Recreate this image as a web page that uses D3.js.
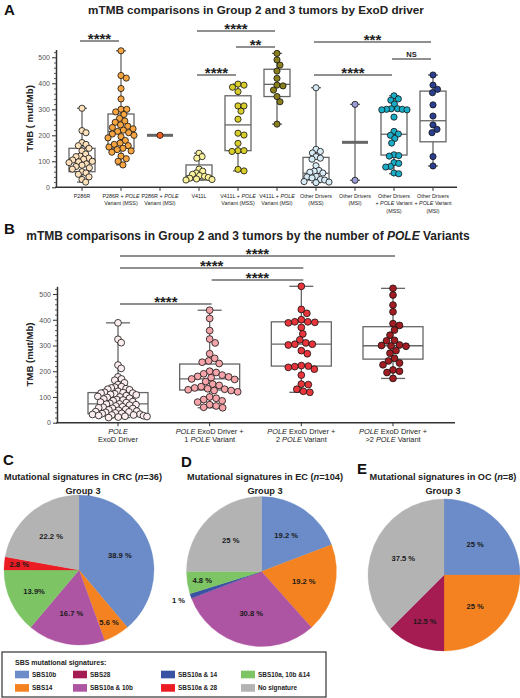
<!DOCTYPE html>
<html>
<head>
<meta charset="utf-8">
<script src="https://cdn.jsdelivr.net/npm/d3@7"></script>
<style>
body { margin: 0; background: #fff; }
svg { font-family: Arial, "Liberation Sans", sans-serif; }
</style>
</head>
<body>
<svg id="fig" width="520" height="698"></svg>
<script>
// ---------- panel A : mTMB by ExoD driver ----------
const driverLabels = [
	['P286R'],
	['P286R + POLE', 'Variant (MSS)'],
	['P286R + POLE', 'Variant (MSI)'],
	['V411L'],
	['V411L + POLE', 'Variant (MSS)'],
	['V411L + POLE', 'Variant (MSI)'],
	['Other Drivers', '(MSS)'],
	['Other Drivers', '(MSI)'],
	['Other Drivers', '+ POLE Variant', '(MSS)'],
	['Other Drivers', '+ POLE Variant', '(MSI)'],
]
const driverColors = ['#fde2bd', '#f7a540', '#f2601f', '#faf29c', '#d9cd2c', '#8a7f1f', '#d7ebf7', '#9a9dd6', '#19adc8', '#2b3f91']

const tmbP286R = [304, 218, 210, 172, 165, 160, 150, 140, 128, 120, 118, 112, 108, 105, 100, 98, 95, 90, 85, 80, 75, 70, 60, 55, 50, 40, 30, 20]
const tmbP286RPoleMSS = [525, 430, 420, 380, 340, 300, 300, 290, 280, 265, 255, 250, 240, 235, 230, 225, 220, 215, 210, 205, 200, 195, 190, 180, 170, 165, 160, 155, 150, 145, 140, 135, 120, 110, 100, 86]
const tmbP286RPoleMSI = [200]
const tmbV411L = [131, 118, 112, 70, 62, 55, 50, 45, 42, 38, 35, 32, 30, 28]
const tmbV411LPoleMSS = [397, 393, 385, 368, 313, 313, 293, 262, 208, 201, 169, 141, 141, 138, 69, 63]
const tmbV411LPoleMSI = [515, 490, 470, 447, 419, 393, 390, 374, 349, 329, 243]
const tmbOtherMSS = [383, 146, 138, 132, 118, 112, 108, 83, 65, 62, 58, 55, 42, 40, 36, 30, 28, 22, 20, 18]
const tmbOtherMSI = [319, 27]
const tmbOtherPoleMSS = [352, 340, 335, 320, 302, 302, 300, 300, 298, 298, 270, 215, 205, 200, 188, 170, 125, 122, 120, 95, 92, 80, 78, 55, 52]
const tmbOtherPoleMSI = [432, 393, 377, 364, 317, 274, 240, 223, 210, 118, 82]

// box quartiles: [q1, median, q3]
const driverBoxes = [
	[60, 110, 150], [150, 215, 282], [200, 200, 200], [28, 45, 86], [141, 240, 352],
	[349, 396, 454], [28, 54, 115], [173, 173, 173], [124, 204, 301], [175, 256, 370],
]

// ---------- panel B : mTMB by number of POLE variants ----------
const variantLabels = [
	['POLE', 'ExoD Driver'],
	['POLE ExoD Driver +', '1 POLE Variant'],
	['POLE ExoD Driver +', '2 POLE Variant'],
	['POLE ExoD Driver +', '>2 POLE Variant'],
]
const variantColors = ['#fcedef', '#f5a4a9', '#e8343b', '#a21d22']
const tmbVar0 = [388, 324, 311, 224, 211, 178, 170, 165, 155, 148, 140, 138, 135, 132, 130, 128, 122, 118, 117, 115, 115, 112, 110, 108, 105, 102, 100, 98, 95, 92, 90, 88, 85, 82, 80, 78, 75, 73, 72, 70, 68, 65, 62, 60, 58, 56, 55, 52, 50, 48, 45, 43, 42, 40, 38, 36, 35, 33, 32, 30, 30, 28, 27, 25, 24, 22, 20]
const tmbVar1 = [437, 405, 358, 325, 310, 268, 250, 240, 235, 230, 200, 195, 190, 185, 180, 178, 175, 170, 168, 160, 150, 145, 140, 135, 132, 130, 128, 125, 125, 120, 100, 95, 90, 85, 80, 70, 65, 60, 58]
const tmbVar2 = [530, 440, 425, 400, 392, 392, 390, 388, 370, 345, 322, 310, 305, 305, 302, 280, 268, 222, 220, 218, 215, 208, 185, 150, 148, 130, 122, 118]
const tmbVar3 = [522, 496, 457, 431, 385, 378, 360, 340, 320, 318, 302, 300, 298, 297, 280, 270, 250, 240, 232, 225, 205, 200, 195, 172]
const variantBoxes = [[35, 73, 117], [127, 170, 228], [220, 305, 392], [247, 299, 373]]

// ---------- panels C-E : mutational signature pies ----------
const sigNames = ['SBS10b', 'SBS14', 'SBS28', 'SBS10a & 10b', 'SBS10a & 14', 'SBS10a, 10b &14', 'SBS10a & 28', 'No signature']
const sigColors = ['#6b8cc8', '#f58220', '#a51c52', '#ad55a2', '#3a52a3', '#7dc465', '#ec1c24', '#b3b3b3']
const crcShares = [38.9, 5.6, 0, 16.7, 0, 13.9, 2.8, 22.2]
const crcLabels = ['38.9 %', '5.6 %', '', '16.7 %', '', '13.9%', '2.8 %', '22.2 %']
const ecShares = [19.2, 19.2, 0, 30.8, 1, 4.8, 0, 25]
const ecLabels = ['19.2 %', '19.2 %', '', '30.8 %', '1 %', '4.8 %', '', '25 %']
const ocShares = [25, 25, 12.5, 0, 0, 0, 0, 37.5]
const ocLabels = ['25 %', '25 %', '12.5 %', '', '', '', '', '37.5 %']

const legendOrder = ['SBS10b', 'SBS14', 'SBS28', 'SBS10a & 10b', 'SBS10a & 14', 'SBS10a & 28', 'SBS10a, 10b &14', 'No signature']

const svg = d3.select('#fig')

function richText(sel, str) {
	str.split(/(POLE)/).filter(s => s.length).forEach(part => {
		sel.append('tspan')
			.attr('font-style', part === 'POLE' ? 'italic' : null)
			.text(part)
	})
}

// simple beeswarm, squeezed to a maximum half width
function swarm(values, y, r, limit) {
	const pts = values.map(v => ({ v, y: y(v) })).sort((a, b) => a.y - b.y)
	const placed = []
	pts.forEach(p => {
		let dx = null
		for (let k = 0; k < 300 && dx === null; k++) {
			const cands = k === 0 ? [0] : [k * 0.5, -k * 0.5]
			for (const c of cands) {
				if (placed.every(q => (q.dx - c) ** 2 + (q.y - p.y) ** 2 >= (2 * r) ** 2 * 0.92)) { dx = c; break }
			}
		}
		p.dx = dx
		placed.push(p)
	})
	const m = d3.max(placed, p => Math.abs(p.dx))
	if (m > limit) placed.forEach(p => { p.dx *= limit / m })
	return placed
}

function boxPanel(opts) {
	const { groups, boxes, colors, labels, x, y, boxW, capW, r, spread, axisX0, axisX1, labelSize, labelLine, labelY, yTitle, yTitleX, yTitleSize } = opts
	const g = svg.append('g')
	const y0 = y(0)

	// y axis
	const major = d3.range(0, 501, 100)
	const minor = d3.range(0, 521, 20).filter(v => v % 100)
	g.append('g')
		.attr('transform', `translate(${axisX0},0)`)
		.call(d3.axisLeft(y).tickValues(minor).tickSize(2).tickFormat('').tickSizeOuter(0))
		.call(a => a.select('.domain').remove())
		.call(a => a.selectAll('line').attr('stroke', '#333').attr('stroke-width', 0.8))
	g.append('g')
		.attr('transform', `translate(${axisX0},0)`)
		.call(d3.axisLeft(y).tickValues(major).tickSize(4).tickPadding(2).tickSizeOuter(0))
		.call(a => a.select('.domain').attr('stroke', '#333').attr('stroke-width', 1.5))
		.call(a => a.selectAll('line').attr('stroke', '#333').attr('stroke-width', 1))
		.call(a => a.selectAll('text').attr('font-size', 7).attr('fill', '#555').attr('font-family', null))

	g.append('text')
		.attr('transform', `translate(${yTitleX},${(y(0) + y(530)) / 2}) rotate(-90)`)
		.attr('text-anchor', 'middle')
		.attr('font-size', yTitleSize)
		.attr('font-weight', 'bold')
		.attr('fill', '#222')
		.text(yTitle)

	// x axis
	g.append('line')
		.attr('x1', axisX0 - 0.75).attr('x2', axisX1)
		.attr('y1', y0).attr('y2', y0)
		.attr('stroke', '#333').attr('stroke-width', 1.5)
	labels.forEach((lines, i) => {
		const cx = x(i)
		g.append('line')
			.attr('x1', cx).attr('x2', cx)
			.attr('y1', y0).attr('y2', y0 + 3.5)
			.attr('stroke', '#333').attr('stroke-width', 1)
		lines.forEach((ln, j) => {
			const t = g.append('text')
				.attr('x', cx).attr('y', labelY + j * labelLine)
				.attr('text-anchor', 'middle')
				.attr('font-size', labelSize)
				.attr('fill', '#222')
			richText(t, ln)
		})
	})

	// boxes
	groups.forEach((vals, i) => {
		const cx = x(i)
		const [q1, med, q3] = boxes[i]
		const [mn, mx] = d3.extent(vals)
		const stroke = '#666'
		const flat = q3 === q1
		g.append('line').attr('x1', cx).attr('x2', cx).attr('y1', y(mx)).attr('y2', y(q3)).attr('stroke', stroke).attr('stroke-width', 1.3)
		g.append('line').attr('x1', cx).attr('x2', cx).attr('y1', y(q1)).attr('y2', y(mn)).attr('stroke', stroke).attr('stroke-width', 1.3)
		;[mn, mx].forEach(v => {
			g.append('line').attr('x1', cx - capW / 2).attr('x2', cx + capW / 2)
				.attr('y1', y(v)).attr('y2', y(v)).attr('stroke', stroke).attr('stroke-width', 1.3)
		})
		if (!flat) {
			g.append('rect')
				.attr('x', cx - boxW / 2).attr('y', y(q3))
				.attr('width', boxW).attr('height', y(q1) - y(q3))
				.attr('fill', 'none').attr('stroke', stroke).attr('stroke-width', 1.3)
		}
		g.append('line').attr('x1', cx - boxW / 2).attr('x2', cx + boxW / 2)
			.attr('y1', y(med)).attr('y2', y(med))
			.attr('stroke', stroke).attr('stroke-width', flat ? 3 : 1.3)

		g.selectAll(null)
			.data(swarm(vals, y, r, spread))
			.join('circle')
			.attr('cx', d => cx + d.dx)
			.attr('cy', d => d.y)
			.attr('r', r)
			.attr('fill', colors[i])
			.attr('stroke', '#111')
			.attr('stroke-width', 0.8)
	})
	return g
}

function bracket(g, x1, x2, yLine, label) {
	g.append('line').attr('x1', x1).attr('x2', x2).attr('y1', yLine).attr('y2', yLine)
		.attr('stroke', '#222').attr('stroke-width', 1.2)
	const stars = label.startsWith('*')
	g.append('text')
		.attr('x', (x1 + x2) / 2)
		.attr('y', stars ? yLine + 2.8 : yLine - 2.5)
		.attr('text-anchor', 'middle')
		.attr('font-size', stars ? 15 : 7.5)
		.attr('font-weight', 'bold')
		.attr('fill', '#222')
		.text(label)
}

function panelLetter(x, y, s) {
	svg.append('text').attr('x', x).attr('y', y)
		.attr('font-size', 15).attr('font-weight', 'bold').attr('fill', '#111').text(s)
}

// ----- A -----
panelLetter(4, 15, 'A')
svg.append('text').attr('x', 256).attr('y', 14)
	.attr('text-anchor', 'middle').attr('font-size', 11.7).attr('font-weight', 'bold').attr('fill', '#222')
	.text('mTMB comparisons in Group 2 and 3 tumors by ExoD driver')

const xA = d3.scalePoint().domain(d3.range(driverLabels.length)).range([82, 433])
const yA = d3.scaleLinear().domain([0, 530]).range([187.3, 49.5])
const gA = boxPanel({
	groups: [tmbP286R, tmbP286RPoleMSS, tmbP286RPoleMSI, tmbV411L, tmbV411LPoleMSS, tmbV411LPoleMSI, tmbOtherMSS, tmbOtherMSI, tmbOtherPoleMSS, tmbOtherPoleMSI],
	boxes: driverBoxes, colors: driverColors, labels: driverLabels,
	x: xA, y: yA, boxW: 26, capW: 10, r: 3.1, spread: 13,
	axisX0: 56, axisX1: 457, labelSize: 5.4, labelLine: 7.5, labelY: 197.5,
	yTitle: 'TMB ( mut/Mb)', yTitleX: 33, yTitleSize: 9.6,
})
// significance brackets: [group a, group b, label, line y]
;[[0, 1, '****', 41], [3, 5, '****', 31], [4, 5, '**', 47], [3, 4, '****', 75],
	[6, 9, '***', 42], [8, 9, 'NS', 59], [6, 8, '****', 75]]
	.forEach(([a, b, lab, yl]) => bracket(gA, xA(a) - 2, xA(b) - 2, yl, lab))

// ----- B -----
panelLetter(4, 234, 'B')
const tB = svg.append('text').attr('x', 248).attr('y', 239.5)
	.attr('text-anchor', 'middle').attr('font-size', 12).attr('font-weight', 'bold').attr('fill', '#222')
richText(tB, 'mTMB comparisons in Group 2 and 3 tumors by the number of POLE Variants')

const xB = d3.scalePoint().domain(d3.range(variantLabels.length)).range([118, 393])
const yB = d3.scaleLinear().domain([0, 530]).range([422.7, 286.3])
const gB = boxPanel({
	groups: [tmbVar0, tmbVar1, tmbVar2, tmbVar3],
	boxes: variantBoxes, colors: variantColors, labels: variantLabels,
	x: xB, y: yB, boxW: 60, capW: 24, r: 3.4, spread: 29,
	axisX0: 57, axisX1: 455, labelSize: 7.4, labelLine: 7.8, labelY: 434,
	yTitle: 'TMB (mut/Mb)', yTitleX: 33, yTitleSize: 9.6,
})
;[[0, 3, '****', 256], [0, 2, '****', 268], [1, 2, '****', 280], [0, 1, '****', 304]]
	.forEach(([a, b, lab, yl]) => bracket(gB, xB(a) + 2, xB(b) + 2, yl, lab))

// ----- C, D, E -----
const pies = [
	{ letter: 'C', lx: 3, ly: 465, title: 'CRC', n: 36, tx: 83, cx: 79, cy: 570, r: 75, shares: crcShares, labels: crcLabels },
	{ letter: 'D', lx: 181, ly: 467, title: 'EC', n: 104, tx: 265, cx: 261.5, cy: 571.5, r: 75, shares: ecShares, labels: ecLabels },
	{ letter: 'E', lx: 357, ly: 474, title: 'OC', n: 8, tx: 443, cx: 444, cy: 575, r: 76, shares: ocShares, labels: ocLabels },
]
const pie = d3.pie().sort(null).value(d => d.v)
pies.forEach(p => {
	panelLetter(p.lx, p.ly, p.letter)
	const t = svg.append('text').attr('x', p.tx).attr('y', 480)
		.attr('text-anchor', 'middle').attr('font-size', 9.2).attr('font-weight', 'bold').attr('fill', '#222')
	t.append('tspan').text(`Mutational signatures in ${p.title} (`)
	t.append('tspan').attr('font-style', 'italic').text('n')
	t.append('tspan').text(`=${p.n})`)
	svg.append('text').attr('x', p.tx).attr('y', 493.5)
		.attr('text-anchor', 'middle').attr('font-size', 9.2).attr('font-weight', 'bold').attr('fill', '#222')
		.text('Group 3')

	const data = p.shares.map((v, i) => ({ v, i })).filter(d => d.v > 0)
	const arcs = pie(data)
	const arc = d3.arc().innerRadius(0).outerRadius(p.r)
	const g = svg.append('g').attr('transform', `translate(${p.cx},${p.cy})`)
	g.selectAll('path').data(arcs).join('path')
		.attr('d', arc)
		.attr('fill', d => sigColors[d.data.i])
		.attr('stroke', d => sigColors[d.data.i])
		.attr('stroke-width', 0.3)
	g.selectAll('text').data(arcs).join('text')
		.each(function (d) {
			const f = d.data.v / 100
			const k = f < 0.02 ? 1.17 : f < 0.1 ? 0.8 : f < 0.15 ? 0.66 : 0.58
			const a = (d.startAngle + d.endAngle) / 2
			d3.select(this)
				.attr('x', Math.sin(a) * p.r * k)
				.attr('y', -Math.cos(a) * p.r * k + 2.7)
		})
		.attr('text-anchor', 'middle')
		.attr('font-size', 7.6).attr('font-weight', 'bold').attr('fill', '#1a1a1a')
		.text(d => p.labels[d.data.i])
})

// legend
const lg = svg.append('g')
lg.append('rect').attr('x', 2).attr('y', 652).attr('width', 324).attr('height', 45)
	.attr('fill', '#fff').attr('stroke', '#333').attr('stroke-width', 1.2)
lg.append('text').attr('x', 15).attr('y', 664.5)
	.attr('font-size', 7).attr('font-weight', 'bold').attr('fill', '#222').text('SBS mutational signatures:')
const colX = [15, 73, 161, 241]
legendOrder.forEach((name, k) => {
	const col = Math.floor(k / 2), row = k % 2
	const yy = 674.5 + row * 13.4
	lg.append('rect').attr('x', colX[col]).attr('y', yy - 3.8).attr('width', 14).attr('height', 7.6)
		.attr('fill', sigColors[sigNames.indexOf(name)])
	lg.append('text').attr('x', colX[col] + 17).attr('y', yy + 2.4)
		.attr('font-size', 6.4).attr('font-weight', 'bold').attr('fill', '#222').text(name)
})
</script>
</body>
</html>
